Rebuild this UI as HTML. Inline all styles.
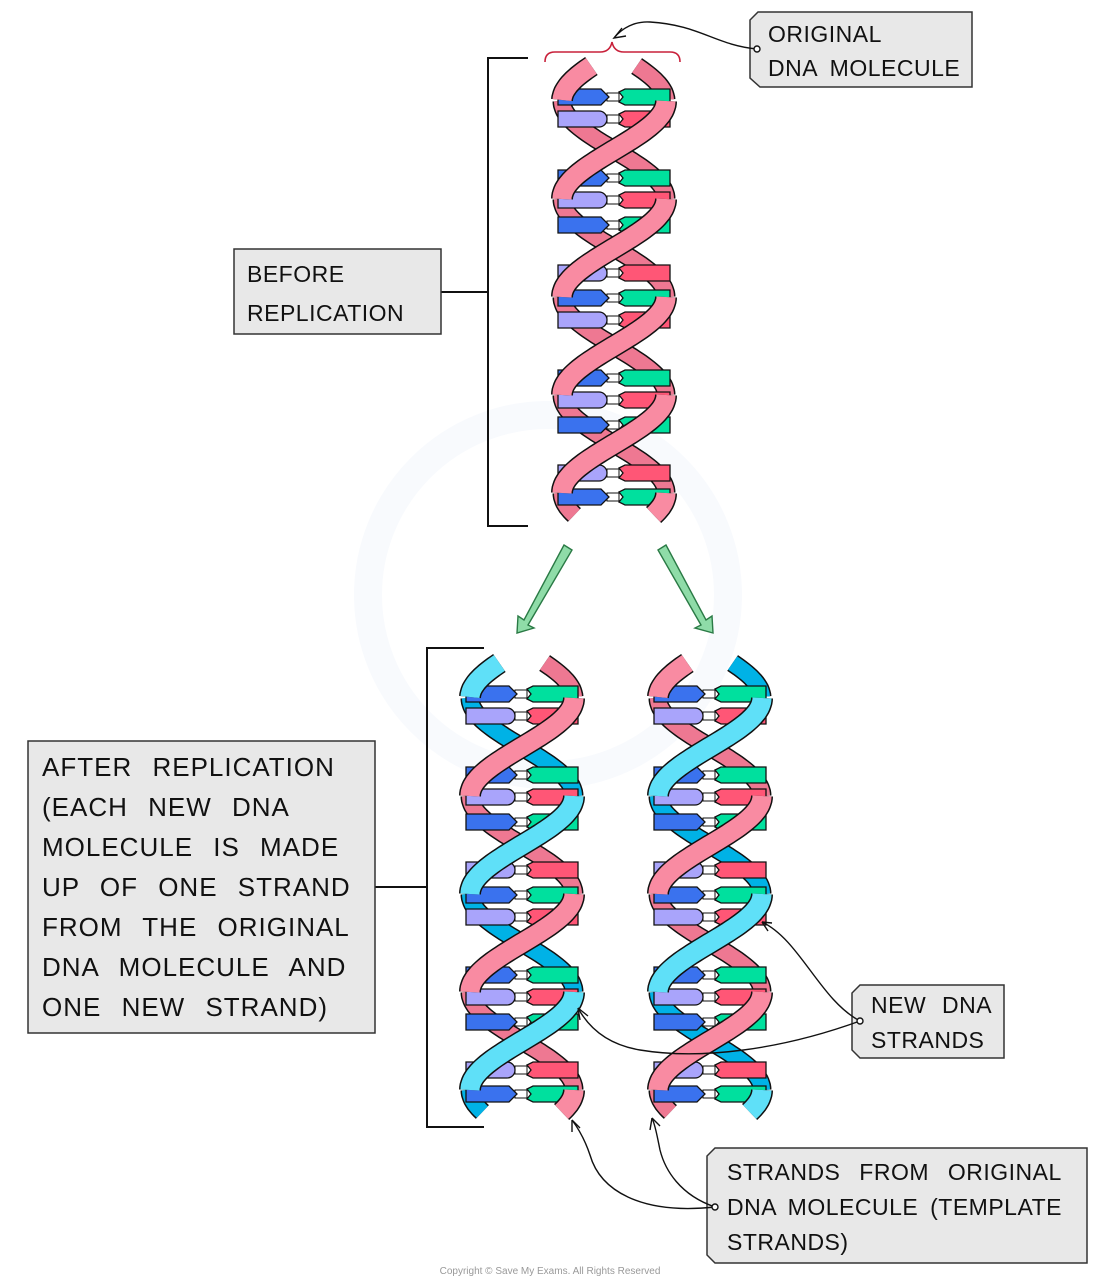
<!DOCTYPE html>
<html><head><meta charset="utf-8">
<style>
html,body{margin:0;padding:0;background:#fff;}
svg{display:block;}
text{font-family:"Liberation Sans",sans-serif;fill:#111;}
</style></head>
<body>
<svg id="s" width="1100" height="1285" viewBox="0 0 1100 1285" xmlns="http://www.w3.org/2000/svg">
<circle cx="548" cy="595" r="180" fill="none" stroke="#f8fafd" stroke-width="28"/>
<g id="helices"></g>
<g stroke="#111" stroke-width="2" fill="none">
<polyline points="528,58 488,58 488,526 528,526"/>
<line x1="441" y1="292" x2="488" y2="292"/>
<polyline points="484,648 427,648 427,1127 484,1127"/>
<line x1="375" y1="887" x2="427" y2="887"/>
</g>
<path d="M545,62 Q545,52 555,52 L600,52 Q610,52 612,42 Q614,52 624,52 L670,52 Q680,52 680,62" fill="none" stroke="#c8203a" stroke-width="1.6"/>
<g fill="#e8e8e8" stroke="#333" stroke-width="1.5">
<polygon points="758,12 972,12 972,87 760,87 750,78 750,20"/>
<polygon points="234,249 441,249 441,334 234,334"/>
<polygon points="28,741 375,741 375,1033 28,1033"/>
<polygon points="860,985 1004,985 1004,1058 860,1058 852,1050 852,993"/>
<polygon points="715,1148 1087,1148 1087,1263 715,1263 707,1255 707,1156"/>
</g>
<g font-size="23" letter-spacing="0.5">
<text x="768" y="42">ORIGINAL</text>
<text x="768" y="76" word-spacing="6">DNA MOLECULE</text>
<text x="247" y="282">BEFORE</text>
<text x="247" y="321">REPLICATION</text>
<text x="871" y="1013" word-spacing="9">NEW DNA</text>
<text x="871" y="1048">STRANDS</text>
<text x="727" y="1180" word-spacing="12">STRANDS FROM ORIGINAL</text>
<text x="727" y="1215" word-spacing="5">DNA MOLECULE (TEMPLATE</text>
<text x="727" y="1250">STRANDS)</text>
</g>
<g font-size="26" letter-spacing="1" word-spacing="12">
<text x="42" y="776">AFTER REPLICATION</text>
<text x="42" y="816">(EACH NEW DNA</text>
<text x="42" y="856">MOLECULE IS MADE</text>
<text x="42" y="896">UP OF ONE STRAND</text>
<text x="42" y="936">FROM THE ORIGINAL</text>
<text x="42" y="976">DNA MOLECULE AND</text>
<text x="42" y="1016">ONE NEW STRAND)</text>
</g>
<g fill="none" stroke="#111" stroke-width="1.4">
<path d="M757,49 C715,45 700,25 650,22 C635,21 622,28 614,38"/>
<path d="M622,28 L614,38 L626,36"/>
<path d="M860,1021 C780,1050 700,1060 640,1050 C610,1045 590,1030 578,1008"/>
<path d="M578,1008 L580,1020 M578,1008 L588,1016"/>
<path d="M860,1021 C820,1000 800,940 762,922"/>
<path d="M762,922 L772,923 M762,922 L768,931"/>
<path d="M715,1207 C640,1215 600,1190 590,1155 C585,1140 578,1128 572,1120"/>
<path d="M572,1120 L572,1132 M572,1120 L580,1128"/>
<path d="M715,1207 C680,1195 665,1170 660,1150 C657,1135 655,1125 652,1118"/>
<path d="M652,1118 L650,1130 M652,1118 L660,1126"/>
</g>
<g fill="#fff" stroke="#111" stroke-width="1.4">
<circle cx="757" cy="49" r="3"/><circle cx="860" cy="1021" r="3"/><circle cx="715" cy="1207" r="3"/>
</g>
<g fill="#8fdca8" stroke="#2a7a45" stroke-width="1.4">
<polygon points="564,545 572,550 528,625 534,628 517,633 518,616 524,620"/>
<polygon points="666,545 658,550 701,625 695,628 713,633 712,616 706,620"/>
</g>
<text x="550" y="1274" font-size="10" text-anchor="middle" style="fill:#999">Copyright © Save My Exams. All Rights Reserved</text>
</svg>
<script>
(function(){
var NS="http://www.w3.org/2000/svg";
var g=document.getElementById("helices");
var A=52,P=196,Y0=150;
function el(t,a){var e=document.createElementNS(NS,t);for(var k in a)e.setAttribute(k,a[k]);return e;}
var pairs=[97,119,178,200,225,273,298,320,378,400,425,473,497];
var ext=[66,101,199,297,395,493,516];
function xs(cx,s,y){return cx+s*A*Math.sin(2*Math.PI*(y-Y0)/P);}
function seg(cx,s,oy,a,b,front,fc,bc){
  var pts=[];for(var y=a;y<=b+0.01;y+=2){pts.push(xs(cx,s,y).toFixed(1)+","+(y+oy).toFixed(1));}
  var p=pts.join(" ");
  g.appendChild(el("polyline",{points:p,fill:"none",stroke:"#111","stroke-width":front?22:19,"stroke-linecap":"butt"}));
  g.appendChild(el("polyline",{points:p,fill:"none",stroke:front?fc:bc,"stroke-width":front?19:16,"stroke-linecap":"butt"}));
}
function helix(cx,oy,c1,c2){
  var segs=[];
  for(var i=0;i<ext.length-1;i++){
    var a=ext[i],b=ext[i+1],m=(a+b)/2;
    var d1=Math.cos(2*Math.PI*(m-Y0)/P);
    segs.push({a:a,b:b,f1:d1<0});
  }
  segs.forEach(function(s){
    if(!s.f1)seg(cx,1,oy,s.a,s.b,false,c1[0],c1[1]); else seg(cx,-1,oy,s.a,s.b,false,c2[0],c2[1]);
  });
  pairs.forEach(function(y,i){
    var yy=y+oy,h=16,t=yy-h/2,L=cx-56,R=cx+56,m=cx-3;
    var bg=(i%2==0);
    var lc=bg?"#3a72ee":"#a9a4fb", rc=bg?"#00e09e":"#ff5676";
    g.appendChild(el("rect",{x:m-4,y:yy-4,width:12,height:8,fill:"#fff",stroke:"#111","stroke-width":1}));
    var lp;
    if(bg) lp="M"+L+","+t+" L"+(m-10)+","+t+" L"+(m-2)+","+yy+" L"+(m-10)+","+(t+h)+" L"+L+","+(t+h)+" Z";
    else lp="M"+L+","+t+" L"+(m-12)+","+t+" A8,8 0 0 1 "+(m-12)+","+(t+h)+" L"+L+","+(t+h)+" Z";
    g.appendChild(el("path",{d:lp,fill:lc,stroke:"#111","stroke-width":1.3}));
    var r0=m+8;
    var rp="M"+(r0+6)+","+t+" L"+R+","+t+" L"+R+","+(t+h)+" L"+(r0+6)+","+(t+h)+" L"+r0+","+(t+h-3)+" L"+(r0+4)+","+yy+" L"+r0+","+(t+3)+" Z";
    g.appendChild(el("path",{d:rp,fill:rc,stroke:"#111","stroke-width":1.3}));
  });
  segs.forEach(function(s){
    if(s.f1)seg(cx,1,oy,s.a,s.b,true,c1[0],c1[1]); else seg(cx,-1,oy,s.a,s.b,true,c2[0],c2[1]);
  });
}
var pink=["#f98ba2","#ee7892"],cyan=["#5fe0f8","#00b2e6"];
helix(614,0,pink,pink);
helix(522,597,cyan,pink);
helix(710,597,pink,cyan);
})();
</script>
</body></html>
